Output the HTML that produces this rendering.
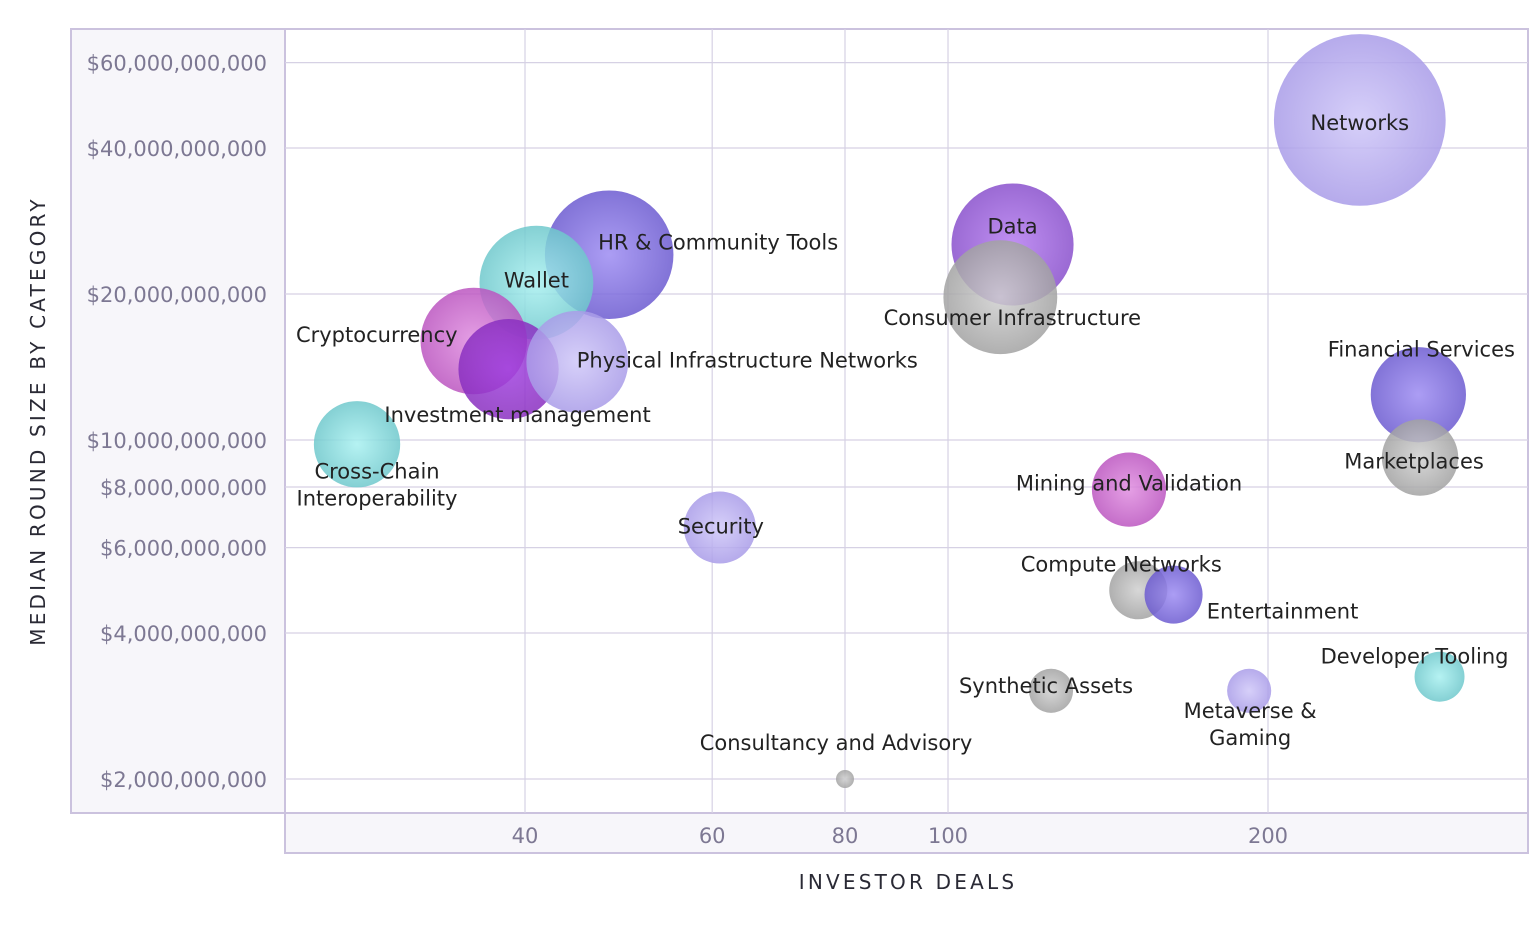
<!DOCTYPE html>
<html><head><meta charset="utf-8">
<style>
html,body{margin:0;padding:0;background:#fff;width:1536px;height:936px;overflow:hidden}
svg{display:block;font-family:"DejaVu Sans","Liberation Sans",sans-serif}
</style></head>
<body>
<svg id="chart" width="1536" height="936" viewBox="0 0 1536 936" xmlns="http://www.w3.org/2000/svg">
<defs id="defs"></defs>
<rect x="71" y="29" width="214" height="784" fill="#f7f6fa" stroke="#cbc2de" stroke-width="2"/>
<rect x="285" y="813" width="1243" height="40" fill="#f7f6fa" stroke="#cbc2de" stroke-width="2"/>
<rect x="285" y="29" width="1243" height="784" fill="#fff" stroke="#cbc2de" stroke-width="2"/>
<g id="grid"></g>
<g id="bubbles"></g>
<g id="labels"></g>
<g id="ticks"></g>
<text transform="translate(45,421) rotate(-90)" text-anchor="middle" font-size="20" letter-spacing="3.2" fill="#2a2a35">MEDIAN ROUND SIZE BY CATEGORY</text>
<text x="908" y="889" text-anchor="middle" font-size="20" letter-spacing="3.2" fill="#2a2a35">INVESTOR DEALS</text>
</svg>
<script>
const categories=["Networks","Data","Consumer Infrastructure","HR & Community Tools","Wallet","Cryptocurrency","Investment management","Physical Infrastructure Networks","Cross-Chain Interoperability","Security","Financial Services","Marketplaces","Mining and Validation","Compute Networks","Entertainment","Synthetic Assets","Metaverse & Gaming","Developer Tooling","Consultancy and Advisory"];
const deals=[244,115,112,48,41,35.8,38.6,44.8,27.8,61,277,278,148,151,163,125,192,290,80];
const roundSize=[45.7e9,25.3e9,19.7e9,24.1e9,21.1e9,16.0e9,14.0e9,14.5e9,9.8e9,6.6e9,12.4e9,9.2e9,7.9e9,4.9e9,4.8e9,3.04e9,3.04e9,3.25e9,2.0e9];
const bubbleSize=[91,46,40,51,40,35,31,32,23,16,28,18,17,10.4,10.4,6,6,7.7,1];
const colorGroup=["lav","purple","gray","blue","teal","mag","violet","lav","teal","lav","blue","gray","mag","gray","blue","gray","lav","teal","gray"];
const xTicks=[40,60,80,100,200];
const yTicks=[60e9,40e9,20e9,10e9,8e9,6e9,4e9,2e9];

const X0=525,XK=1063,Y0=779,YK=485;
function xs(v){return X0+(Math.log10(v)-Math.log10(40))*XK;}
function ys(v){return Y0-(Math.log10(v)-Math.log10(2e9))*YK;}
function rs(s){return 9*Math.sqrt(s);}
const palette={lav:["#cfc7f8","#a99ce8"],purple:["#b57cf0","#8950cc"],gray:["#d0d0d0","#a2a2a2"],blue:["#9d8cf2","#6c5bd0"],teal:["#a8f0f0","#6fc8cc"],mag:["#e08ee0","#bb55c0"],violet:["#a040e0","#8a30c0"]};
const labelOff={"Networks":[0,2],"Data":[0,-19],"Consumer Infrastructure":[12,20],"HR & Community Tools":[109,-13],"Wallet":[0,-3],"Cryptocurrency":[-97,-7],"Investment management":[9,45],"Physical Infrastructure Networks":[170,-2],"Cross-Chain Interoperability":[20,26],"Security":[1,-2],"Financial Services":[3,-46],"Marketplaces":[-6,3],"Mining and Validation":[0,-7],"Compute Networks":[-17,-27],"Entertainment":[109,16],"Synthetic Assets":[-5,-6],"Metaverse & Gaming":[1,19],"Developer Tooling":[-25,-21],"Consultancy and Advisory":[-9,-37]};
const NS="http://www.w3.org/2000/svg";
function mk(t,a,p){const e=document.createElementNS(NS,t);for(const k in a)e.setAttribute(k,a[k]);p.appendChild(e);return e;}
const defs=document.getElementById('defs');
for(const k in palette){const g=mk('radialGradient',{id:'g-'+k,cx:'50%',cy:'50%',r:'50%'},defs);
mk('stop',{offset:'0%','stop-color':palette[k][0]},g);mk('stop',{offset:'100%','stop-color':palette[k][1]},g);}
const grid=document.getElementById('grid'),ticks=document.getElementById('ticks');
yTicks.forEach(v=>{const y=ys(v);
const l=mk('line',{x1:285,x2:1528,y1:y,y2:y,stroke:'#d6d1e4','stroke-width':1.2},grid);


const t=mk('text',{x:267,y:y+8,'text-anchor':'end','font-size':21,fill:'#7d7893'},ticks);


t.textContent='$'+v.toLocaleString('en-US');});
xTicks.forEach(v=>{const x=xs(v);
const l=mk('line',{x1:x,x2:x,y1:29,y2:813,stroke:'#d6d1e4','stroke-width':1.2},grid);


const t=mk('text',{x:x,y:843,'text-anchor':'middle','font-size':21,fill:'#7d7893'},ticks);


t.textContent=String(v);});
const bub=document.getElementById('bubbles'),lab=document.getElementById('labels');
categories.forEach((c,i)=>{const cx=xs(deals[i]),cy=ys(roundSize[i]);
const el=mk('circle',{cx:cx,cy:cy,r:rs(bubbleSize[i]),fill:'url(#g-'+colorGroup[i]+')','fill-opacity':0.85},bub);


const o=labelOff[c]||[0,0];
let lines=[c];
if(c==="Cross-Chain Interoperability")lines=["Cross-Chain","Interoperability"];
if(c==="Metaverse & Gaming")lines=["Metaverse &","Gaming"];
lines.forEach((s,j)=>{const t=mk('text',{x:cx+o[0],y:cy+o[1]+8+j*27,'text-anchor':'middle','font-size':21,fill:'#222'},lab);


t.textContent=s;});});
</script>
</body></html>
